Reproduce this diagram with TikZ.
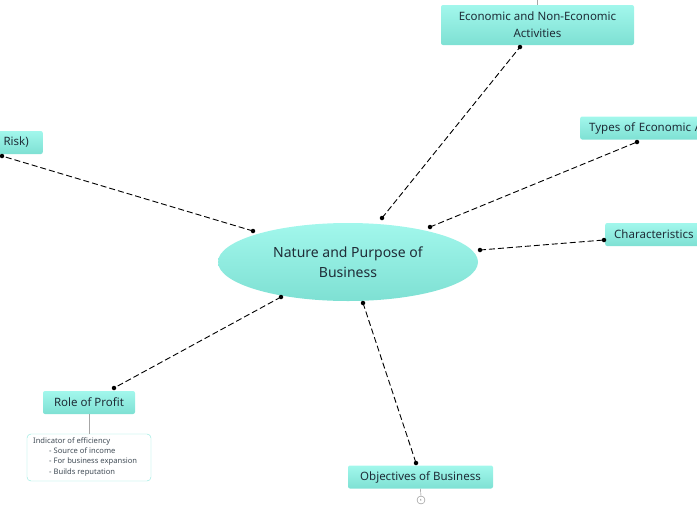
\documentclass[tikz,border=0pt]{standalone}
\usepackage{fontspec}
\setmainfont{Noto Sans}
\usetikzlibrary{shapes.geometric}
\definecolor{ctop}{HTML}{A2F7EC}
\definecolor{cbot}{HTML}{7EE0D3}
\definecolor{txt}{HTML}{1F2D38}
\definecolor{bord}{HTML}{8BE8DC}
\tikzset{
 topic/.style={rectangle,rounded corners=2pt,top color=ctop,bottom color=cbot,draw=none,text=txt,font=\fontsize{11.5}{15}\selectfont,inner sep=0pt,minimum height=23pt},
 conn/.style={dash pattern=on 6pt off 3pt,line width=0.9pt,black},
 dotc/.style={circle,fill=black,inner sep=0pt,minimum size=4.5pt},
}
\begin{document}
\begin{tikzpicture}[x=1pt,y=-1pt]
\useasboundingbox (0,0) rectangle (697,520);
\begin{scope}
\clip (0,0) rectangle (697,520);
\node[ellipse,top color=ctop,bottom color=cbot,minimum width=260pt,minimum height=78pt,text=txt,font=\fontsize{14}{20}\selectfont,align=center] (c) at (348,262) {Nature and Purpose of\\Business};
\draw[gray!70,thick] (537,0) -- (537,5);
\node[topic,minimum width=193pt,minimum height=40pt,align=center,font=\fontsize{11.5}{17}\selectfont] (e) at (537.5,25) {Economic and Non-Economic\\Activities};
\node[topic,anchor=west,minimum width=180pt,text width=170pt,align=left] (t) at (580,128) {\hspace*{4pt}Types of Economic Activities};
\node[topic,anchor=west,minimum width=180pt,text width=170pt,align=left] (ch) at (605,234.5) {\hspace*{4pt}Characteristics of Business};
\node[topic,anchor=east,minimum width=120pt,text width=112pt,align=right] (r) at (43,142.5) {(Business Risk)\hspace*{10pt}};
\node[topic,minimum width=92pt] (p) at (89,402.5) {Role of Profit};
\node[topic,minimum width=145pt] (o) at (420.5,477) {Objectives of Business};
\node[draw=bord,rounded corners=4pt,fill=white,minimum width=124pt,minimum height=47pt,inner sep=0pt] (n) at (89,457.5) {};
\node[anchor=north west,font=\fontsize{7.6}{10.2}\selectfont,text=txt!85,align=left,inner sep=0pt] (nt) at (33,437.5) {Indicator of efficiency\\\hspace*{16pt}- Source of income\\\hspace*{16pt}- For business expansion\\\hspace*{16pt}- Builds reputation};
\draw[gray!70,thick] (p.south) -- (n.north);
\draw[gray] (o.south) -- (421,496);
\node[circle,draw=gray,fill=white,inner sep=0pt,minimum size=8pt,font=\fontsize{3}{3}\selectfont] (oc) at (421,500) {1};
\coordinate (a1) at (382,218); \coordinate (b1) at (520,47);
\coordinate (a2) at (430,227); \coordinate (b2) at (637,142);
\coordinate (a3) at (480,250); \coordinate (b3) at (604,240);
\coordinate (a4) at (253,231); \coordinate (b4) at (2,156);
\coordinate (a5) at (281,297); \coordinate (b5) at (114,388);
\coordinate (a6) at (363,303); \coordinate (b6) at (416,463);
\foreach \i in {1,...,6}{
 \draw[conn] (a\i) -- (b\i);
 \node[dotc] at (a\i) {}; \node[dotc] at (b\i) {};
}
\end{scope}
\end{tikzpicture}
\end{document}
